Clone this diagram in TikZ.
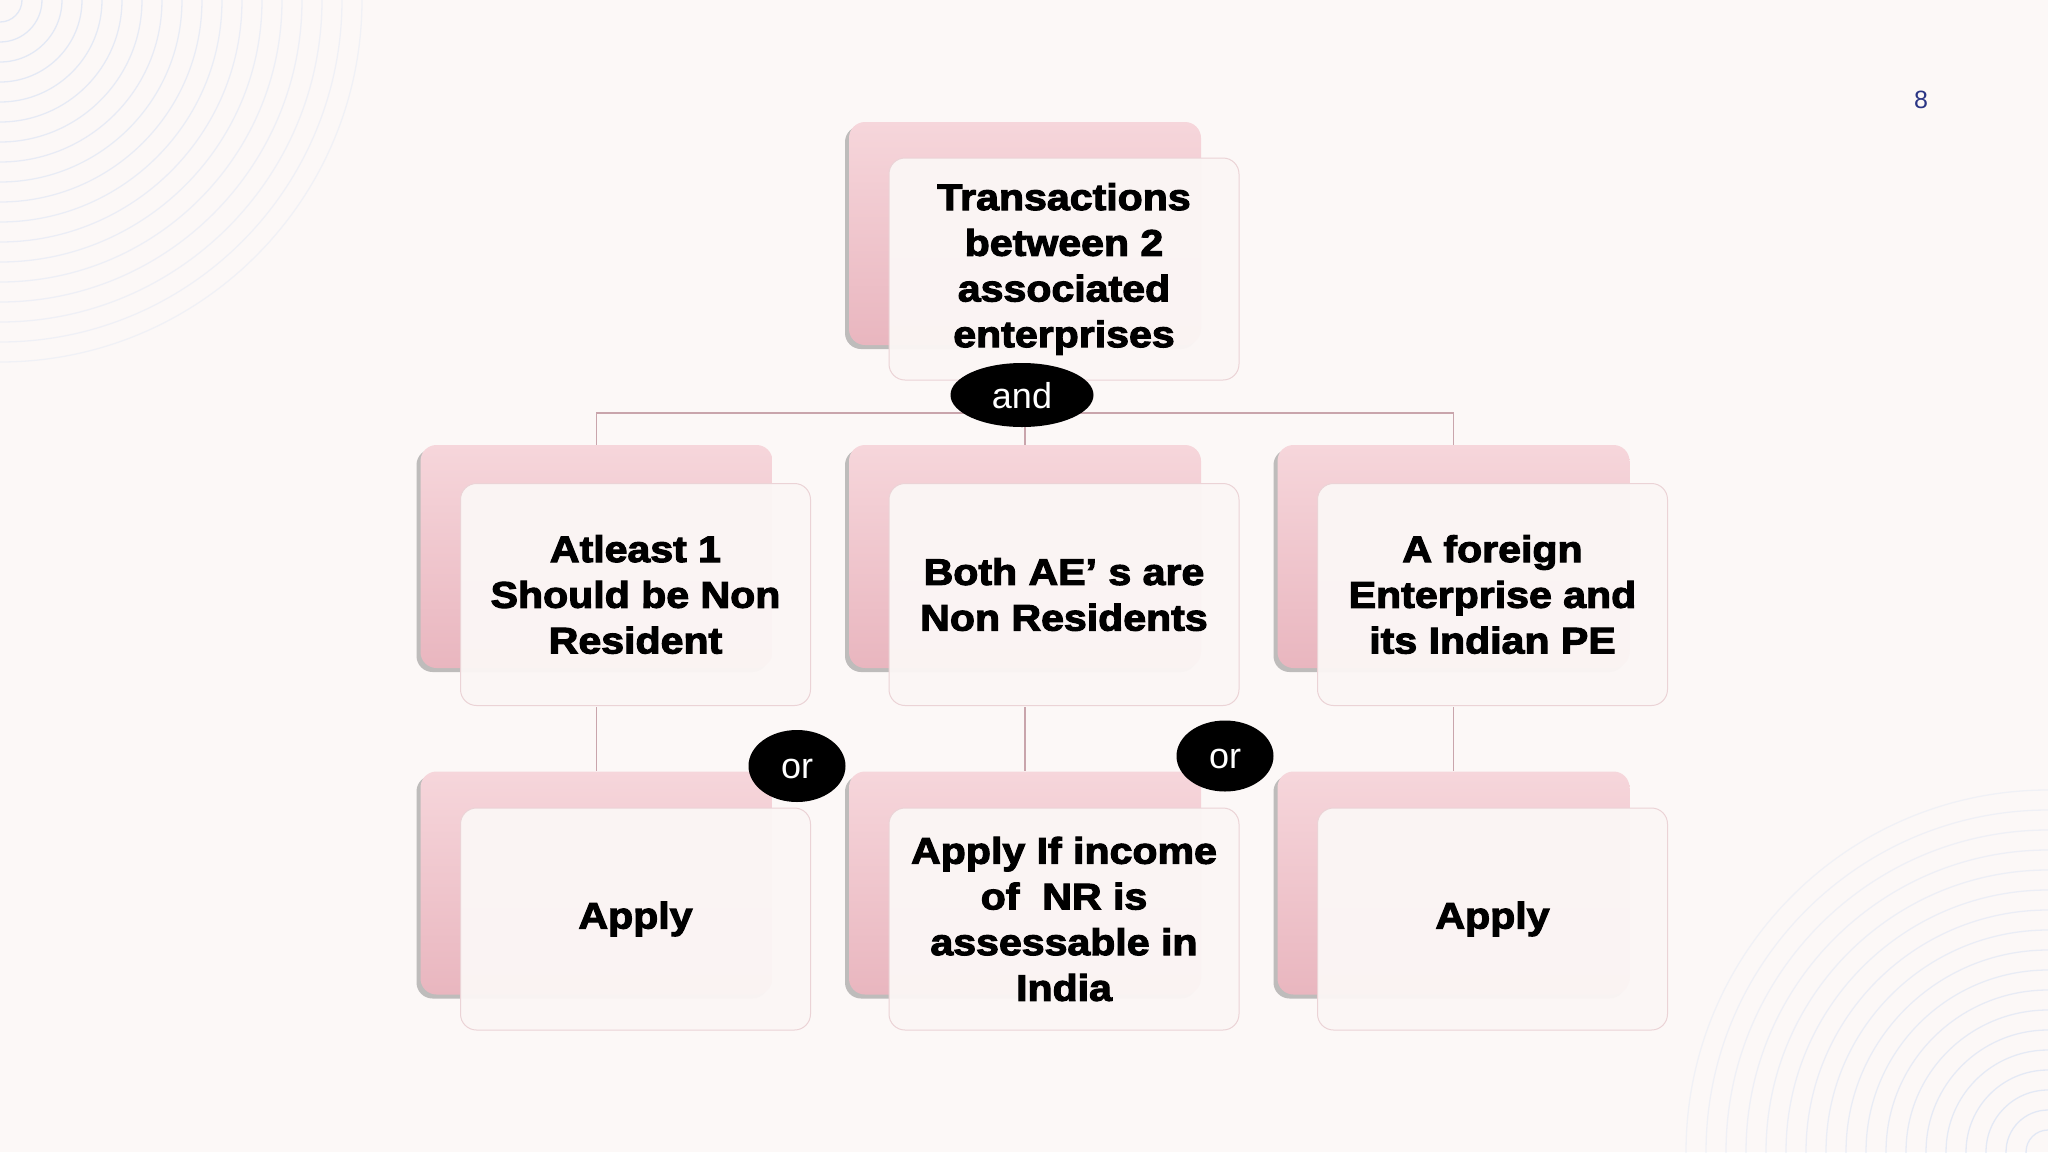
\documentclass[tikz,border=0pt]{standalone}
\usepackage{fontspec}
\setmainfont{Liberation Sans}
\newfontfamily\blackfont{Liberation Sans Bold}[FakeBold=3,FakeStretch=1.11]
\usetikzlibrary{shapes.geometric,shadows}
\definecolor{bg}{HTML}{FCF8F7}
\definecolor{pinktop}{HTML}{F6D6DB}
\definecolor{pinkbot}{HTML}{E9B6BF}
\definecolor{frontfill}{HTML}{FBF6F5}
\definecolor{frontline}{HTML}{EBD3D6}
\definecolor{connc}{HTML}{C9A5AC}
\definecolor{arcc}{HTML}{D8E2F5}
\definecolor{pagenum}{HTML}{2A3585}
\tikzset{
  pinkbox/.style={rectangle, rounded corners=16pt, minimum width=352pt, minimum height=223pt, inner sep=0pt,
    top color=pinktop, bottom color=pinkbot, draw=none,
    drop shadow={shadow xshift=-4pt, shadow yshift=-4pt, opacity=0.45, fill=black!55}},
  frontbox/.style={rectangle, rounded corners=16pt, minimum width=350pt, minimum height=222pt, inner sep=0pt,
    fill=frontfill, fill opacity=0.96, text opacity=1, draw=frontline, line width=1pt,
    align=center, font=\blackfont\fontsize{37}{45.7}\selectfont, text=black},
  conn/.style={draw=connc, line width=1.6pt},
  oval/.style={ellipse, fill=black, inner sep=0pt, text=white, font=\fontsize{36}{40}\selectfont},
  arcline/.style={draw=arcc, line width=1.3pt}
}
\begin{document}
\begin{tikzpicture}[x=1pt,y=-1pt]
\fill[bg] (0,0) rectangle (2048,1152);
\useasboundingbox (0,0) rectangle (2048,1152);
\begin{scope}
\clip (0,0) rectangle (2048,1152);
\foreach \r in {22,42,...,372} {
  \pgfmathsetmacro{\op}{0.75-0.45*\r/372}
  \draw[arcline, draw opacity=\op] (0,0) circle[radius=\r pt];
  \draw[arcline, draw opacity=\op] (2048,1152) circle[radius=\r pt];
}
\end{scope}
% page number
\node[text=pagenum, font=\fontsize{25}{28}\selectfont] (pg) at (1921,100) {8};
% pink back boxes
\node[pinkbox] (p1) at (1025,233.5) {};
\node[pinkbox] (p2) at (596.5,556.5) {};
\node[pinkbox] (p3) at (1025,556.5) {};
\node[pinkbox] (p4) at (1453.5,556.5) {};
\node[pinkbox] (p5) at (596.5,883) {};
\node[pinkbox] (p6) at (1025,883) {};
\node[pinkbox] (p7) at (1453.5,883) {};
% connectors
\coordinate (bar) at (1025,413);
\draw[conn] (p2.north) -- (p2.north |- bar) -- (p4.north |- bar) -- (p4.north);
\draw[conn] (p3.north) -- (bar) -- (1025,381);
\draw[conn] (596.5,707) -- (p5.north);
\draw[conn] (1025,707) -- (p6.north);
\draw[conn] (1453.5,707) -- (p7.north);
% front boxes
\node[frontbox] (f1) at (1064,269) {Transactions\\between 2\\associated\\enterprises};
\node[frontbox] (f2) at (635.5,594.5) {Atleast 1\\Should be Non\\Resident};
\node[frontbox] (f3) at (1064,594.5) {Both AE’ s are\\Non Residents};
\node[frontbox] (f4) at (1492.5,594.5) {A foreign\\Enterprise and\\its Indian PE};
\node[frontbox] (f5) at (635.5,919) {Apply};
\node[frontbox] (f6) at (1064,919) {Apply If income\\of\ \ NR is\\assessable in\\India};
\node[frontbox] (f7) at (1492.5,919) {Apply};
% ovals
\node[oval, minimum width=143pt, minimum height=64pt] (and) at (1022,395) {\raisebox{-1pt}[25.8pt][0pt]{and}};
\node[oval, minimum width=97pt, minimum height=72pt] (or1) at (797,766) {\raisebox{-3pt}[18.7pt][0pt]{or}};
\node[oval, minimum width=97pt, minimum height=71pt] (or2) at (1225,756) {\raisebox{-3pt}[18.7pt][0pt]{or}};
\end{tikzpicture}
\end{document}
